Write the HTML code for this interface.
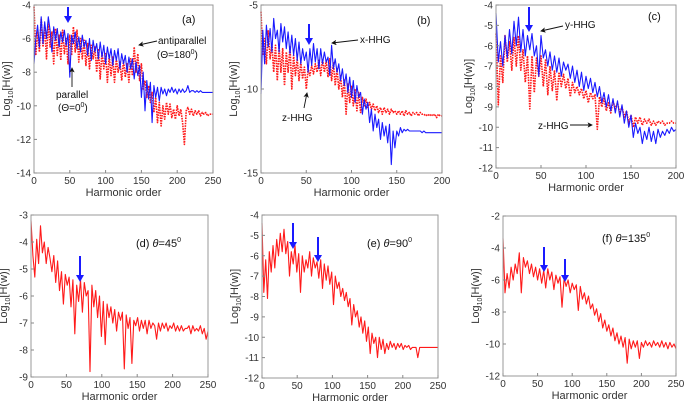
<!DOCTYPE html>
<html><head><meta charset="utf-8">
<style>
html,body{margin:0;padding:0;background:#fff;}
svg{display:block;font-family:"Liberation Sans",sans-serif;}
</style></head>
<body>
<svg id="fig" width="685" height="402" viewBox="0 0 685 402">
<defs>
<marker id="ah" markerWidth="6" markerHeight="6" refX="5" refY="3" orient="auto"><path d="M0,0 L6,3 L0,6 L1.5,3 Z" fill="#111"/></marker>
</defs>
</svg>
<script>
// ---- data (x evenly spaced over range) ----
const aBlue=[-7.5,-6,-5.2,-6.5,-4.7,-6.3,-5,-6,-4.7,-5.5,-6.8,-5.3,-6.1,-5.4,-6.5,-5.6,-6.2,-5.5,-6.4,-5.7,-8.3,-5.8,-6.3,-5.6,-6.6,-5.9,-6.8,-5.8,-6.5,-6.1,-7,-6,-7.3,-6.1,-6.8,-6.3,-7.2,-6.2,-7.1,-6.4,-7.5,-6.5,-7.2,-6.6,-7.6,-6.7,-7.3,-6.6,-7.8,-6.9,-7.5,-7,-8,-7.1,-7.8,-7.2,-8.4,-7.4,-8.2,-7.6,-9.5,-8,-10.3,-8.5,-9.6,-8.6,-11,-8.8,-9.5,-8.9,-9.7,-8.9,-9.3,-9,-9.4,-9,-9.2,-8.9,-9.2,-9,-9.3,-9,-9.2,-9,-9.2,-9.1,-8.8,-9.2,-9.1,-9.1,-9.2,-9.1,-9.2,-9.1,-9.2,-9.2,-9.2,-9.2,-9.2,-9.2,-9.2];
const aRed=[-4.1,-7,-5.5,-6.8,-4.8,-6.5,-5.2,-7.2,-5,-6.5,-5.6,-7.5,-5.4,-7,-5.8,-7.3,-5.5,-6.9,-6,-7.5,-5.8,-7,-5.3,-6.8,-5.5,-7.4,-6,-7.2,-6.1,-7.6,-6.3,-7.8,-6.4,-7.2,-6.5,-8,-6.6,-8.4,-6.8,-7.8,-6.9,-8.6,-7,-8.2,-7.1,-8.6,-7.2,-8,-7.4,-8.5,-7.3,-8.3,-7.5,-8.6,-7.2,-8.2,-6.5,-8,-6.9,-8.5,-7.5,-9,-8.5,-9.5,-8.8,-9.8,-9.2,-10.4,-9.5,-11,-9.8,-11.2,-10,-10.8,-9.8,-10.5,-9.9,-10.7,-10.2,-10.8,-10,-10.6,-10.2,-11,-12.3,-10.3,-10.1,-10.5,-10.2,-10.6,-10.3,-10.5,-10.3,-10.6,-10.4,-10.5,-10.4,-10.6,-10.5,-10.5,-10.5];
const bBlue=[-10.3,-6.5,-8.5,-6.2,-7.5,-6.4,-7.8,-5.8,-7,-6.5,-7.8,-6.1,-7.2,-6.3,-7.6,-6.6,-7.9,-6.8,-8,-7,-8.3,-7.2,-8.5,-7.6,-8.3,-7.8,-9,-7.6,-8.6,-7.3,-8.4,-7.6,-8.8,-7.6,-8.5,-7.8,-8.4,-8.1,-9.2,-7.4,-8.8,-8.2,-9,-8.5,-9.5,-8.8,-9.8,-9.1,-10.2,-9.3,-10.5,-9.5,-10.8,-9.8,-10.5,-10.2,-11.5,-10.6,-11.2,-10.8,-12,-11.2,-12.5,-11.5,-12.3,-11.8,-13,-12,-12.8,-12.2,-13.2,-12.1,-14.5,-12.5,-13.5,-12.5,-12.8,-12.3,-12.6,-12.4,-12.5,-12.4,-12.5,-12.5,-12.5,-12.5,-12.5,-12.5,-12.5,-12.6,-12.5,-12.6,-12.6,-12.6,-12.6,-12.6,-12.6,-12.6,-12.6,-12.6,-12.6];
const bRed=[-5.4,-8,-7,-8.5,-6.5,-8.2,-7.3,-9,-7.4,-9.5,-7.5,-9,-7.6,-9.8,-7.8,-9,-7.5,-10,-8,-9.2,-8.2,-9.5,-8.4,-9.4,-8.7,-10,-8.8,-9.2,-8.6,-9.1,-8.5,-9,-8.3,-9.2,-8.2,-9,-8.3,-9.3,-8.2,-9.5,-8.4,-9.8,-8.8,-10,-9.2,-10.5,-9.4,-11.5,-9.7,-10.8,-9.8,-11,-10,-11.3,-10.2,-11.4,-10.5,-11,-10.6,-11.1,-10.8,-11.2,-10.9,-11.3,-11,-11.4,-11.1,-11.5,-11.1,-11.4,-11.2,-11.5,-11.2,-11.4,-11.3,-11.5,-11.3,-11.5,-11.3,-11.6,-11.3,-11.5,-11.4,-11.6,-11.4,-11.5,-11.4,-11.6,-11.4,-11.5,-11.5,-11.6,-11.5,-11.6,-11.5,-11.6,-11.5,-11.7,-11.5,-11.6,-11.6];
const cBlue=[-4.4,-6.8,-5.8,-7,-5.5,-6.6,-5.2,-6.4,-4.8,-6,-4.6,-6.3,-5.2,-6.5,-5.5,-6.2,-5.4,-6.5,-6,-7.5,-5.5,-6.6,-6.2,-7,-6.3,-7.2,-6.5,-7.3,-6.6,-7.5,-6.8,-7.2,-6.9,-7.6,-7,-7.8,-7.2,-8,-7.3,-8.2,-7.5,-8.1,-7.6,-8.3,-7.8,-8.5,-8,-8.8,-8.3,-9,-8.4,-9.2,-8.6,-9.3,-8.7,-9.5,-8.9,-9.8,-9.2,-10,-9.4,-10.5,-9.8,-10.3,-10,-10.8,-10.2,-10.6,-10,-10.7,-10.2,-10.8,-10.1,-10.5,-10.2,-10.4,-10.1,-10.3,-10,-10.2,-10.1];
const cRed=[-5.4,-8.9,-6.5,-7.8,-5.5,-6.8,-5.8,-7.2,-5.6,-7,-5.5,-7.2,-6.2,-7.8,-6.5,-9.1,-6.5,-8.3,-6.6,-7.5,-6.5,-8,-6.7,-8.4,-7,-8.2,-7.2,-8.7,-7.3,-8,-7.4,-8.1,-7.6,-8.5,-7.8,-8.3,-8,-8.4,-8.1,-8.6,-8.2,-8.8,-8.3,-8.6,-8.4,-10.1,-8.5,-9,-8.6,-9.2,-8.8,-9.3,-8.7,-9.1,-8.8,-9.3,-9,-9.5,-9.2,-9.8,-9.4,-10,-9.5,-9.8,-9.5,-9.9,-9.6,-9.8,-9.6,-9.9,-9.7,-9.9,-9.7,-9.8,-9.7,-9.9,-9.8,-9.8,-9.7,-9.8,-9.8];
const dRed=[-3.2,-4.5,-5.3,-3.9,-4.8,-3.4,-4.4,-4,-4.8,-4.2,-4.6,-5.1,-4.5,-5.5,-4.7,-5.8,-5.1,-6.3,-5.2,-5.6,-5.3,-6.4,-5.4,-7.4,-5.6,-6.2,-5.4,-6.6,-5.5,-6,-5.8,-8.8,-5.6,-6.4,-5.8,-6.8,-6,-7.5,-6.2,-7.8,-6.3,-6.8,-6.4,-7,-6.5,-7.3,-6.6,-6.9,-6.6,-8.7,-6.7,-7.2,-6.8,-8.5,-6.9,-7.1,-6.8,-7.3,-6.9,-7.2,-6.9,-7.4,-6.9,-7.2,-7,-7.1,-7.6,-7,-7.3,-7,-7.2,-7,-7.3,-7.1,-7.2,-7,-7.3,-7.1,-7.3,-7.1,-7.3,-7.2,-7.2,-7.1,-7.4,-7.1,-7.3,-7.2,-7.3,-7.1,-7.4,-7.2,-7.6,-7.3];
const eRed=[-4.4,-7.8,-6.2,-8.1,-5.8,-6.8,-5.5,-6.6,-5.2,-6,-4.9,-5.8,-4.7,-5.9,-5.3,-7,-5.8,-6.4,-5.5,-6.8,-5.9,-7.8,-6,-6.8,-6.2,-6.6,-5.8,-7,-6.1,-6.6,-6.3,-7.1,-6.2,-7.6,-6.4,-7.2,-6.5,-7.4,-6.8,-8.4,-7,-7.6,-7.3,-8,-7.6,-8.2,-7.8,-8.5,-8.1,-9.4,-8.4,-9,-8.7,-9.5,-9,-9.8,-9.2,-10.2,-9.5,-10.8,-9.8,-10.3,-10,-11,-10,-10.6,-10.1,-10.8,-10.3,-10.6,-10.2,-10.5,-10.3,-10.6,-10.3,-10.5,-10.3,-10.6,-10.4,-10.5,-10.4,-10.6,-10.5,-10.5,-10.5,-11,-10.5,-10.5,-10.5,-10.5,-10.5,-10.5,-10.5,-10.5,-10.5,-10.5,-10.5];
const fRed=[-3.4,-6.8,-5.6,-6.5,-5.2,-6,-5,-5.6,-4.3,-6.8,-4.6,-5.2,-4.8,-5.6,-5,-5.8,-5.2,-6,-5.3,-6.2,-5.4,-6.5,-5.3,-6,-5.5,-6.6,-5.7,-6.2,-5.8,-7.7,-5.9,-6.4,-6,-6.8,-6.2,-6.6,-6.3,-7.9,-6.4,-7.2,-6.8,-7.5,-7,-7.8,-7.5,-8.2,-7.8,-8.6,-8.1,-9,-8.5,-9.2,-8.8,-9.5,-9,-9.8,-9.3,-10,-9.5,-10.2,-9.6,-11.2,-9.7,-10.3,-9.8,-10.2,-9.8,-10.9,-9.9,-10.2,-9.8,-10.1,-9.9,-10.2,-9.8,-10.1,-9.9,-10.2,-9.8,-10.2,-9.9,-10.3,-9.9,-10.2,-10,-10.3];
const xTicks250=[0,50,100,150,200,250];
const xTicks200=[0,50,100,150,200];
const yTicksA=[-4,-6,-8,-10,-12,-14];
const yTicksB=[-5,-10,-15];
const yTicksC=[-4,-5,-6,-7,-8,-9,-10,-11,-12];
const yTicksD=[-3,-4,-5,-6,-7,-8,-9];
const yTicksE=[-4,-5,-6,-7,-8,-9,-10,-11,-12];
const yTicksF=[-2,-4,-6,-8,-10,-12];

const svg=document.getElementById('fig');
const NS='http://www.w3.org/2000/svg';
function mk(tag,attrs,parent){const e=document.createElementNS(NS,tag);for(const k in attrs)e.setAttribute(k,attrs[k]);(parent||svg).appendChild(e);return e;}
function txt(s,x,y,attrs,parent){const t=mk('text',Object.assign({x:x,y:y,'font-size':10,fill:'#333'},attrs||{}),parent);t.textContent=s;return t;}

function panel(id,box,xmax,ymin,ymax,xt,yt,series){
  const g=mk('g',{});
  
  
  const X=v=>box.l+(v/xmax)*(box.r-box.l);
  const Y=v=>box.t+(ymax-v)/(ymax-ymin)*(box.b-box.t);
  series.forEach(s=>{
    const pts=s.data.map((v,i)=>X(xmax*i/(s.data.length-1)).toFixed(1)+','+Y(Math.max(ymin,v)).toFixed(1)).join(' ');
    const p=mk('polyline',{points:pts,fill:'none',stroke:s.color,'stroke-width':s.dash?1.6:1.1,'stroke-dasharray':s.dash?'1.6 1':'none','stroke-linejoin':'round'},g);
    
    
  });
  const fr=mk('rect',{x:box.l,y:box.t,width:box.r-box.l,height:box.b-box.t,fill:'none',stroke:'#999','stroke-width':1},g);
  
  
  xt.forEach(v=>{
    mk('line',{x1:X(v),x2:X(v),y1:box.b,y2:box.b-3,stroke:'#888'},g);
    const t=txt(String(v),X(v),box.b+11,{'text-anchor':'middle'},g);
    
    
  });
  yt.forEach(v=>{
    mk('line',{x1:box.l,x2:box.l+3,y1:Y(v),y2:Y(v),stroke:'#888'},g);
    const t=txt(String(v),box.l-3,Y(v)+3.5,{'text-anchor':'end'},g);
    
    
  });
  const xl=txt('Harmonic order',(box.l+box.r)/2,box.b+23,{'text-anchor':'middle','font-size':11},g);
  
  
  const yx=box.l-24, yy=(box.t+box.b)/2;
  const yl=mk('text',{x:yx,y:yy,'font-size':11,fill:'#333','text-anchor':'middle',transform:'rotate(-90 '+yx+' '+yy+')'},g);
  
  
  yl.innerHTML='Log<tspan font-size="7" dy="3">10</tspan><tspan dy="-3">[H(w)]</tspan>';
  return {X,Y,g};
}
function blueArrow(x,y1,y2){
  const g=mk('g',{});
  
  
  mk('line',{x1:x,x2:x,y1:y1,y2:y2-5,stroke:'#1a1aff','stroke-width':2},g);
  mk('path',{d:`M${x-4},${y2-7} L${x+4},${y2-7} L${x},${y2} Z`,fill:'#1a1aff'},g);
}
function blackArrow(x1,y1,x2,y2){
  const l=mk('line',{x1,y1,x2,y2,stroke:'#111','stroke-width':0.9,'marker-end':'url(#ah)'});
  
  
}
function label(s,x,y,name,size){
  const t=txt('',x,y,{'font-size':size||10,fill:'#111'});
  t.innerHTML=s;
  
  
}

panel('a',{l:34,r:213,t:5,b:173},250,-14,-4,xTicks250,yTicksA,[
 {data:aRed,color:'#ff1a1a',dash:true,name:'antiparallel-series'},
 {data:aBlue,color:'#1a1aff',name:'parallel-series'}]);
panel('b',{l:261,r:442,t:5,b:173},200,-15,-5,xTicks200,yTicksB,[
 {data:bRed,color:'#ff1a1a',dash:true,name:'z-hhg-series'},
 {data:bBlue,color:'#1a1aff',name:'x-hhg-series'}]);
panel('c',{l:496,r:676,t:5,b:168},200,-12,-4,xTicks200,yTicksC,[
 {data:cRed,color:'#ff1a1a',dash:true,name:'z-hhg-series'},
 {data:cBlue,color:'#1a1aff',name:'y-hhg-series'}]);
panel('d',{l:31,r:208,t:215,b:377},250,-9,-3,xTicks250,yTicksD,[
 {data:dRed,color:'#ff1a1a',name:'theta-45-series'}]);
panel('e',{l:262,r:438,t:215,b:378},250,-12,-4,xTicks250,yTicksE,[
 {data:eRed,color:'#ff1a1a',name:'theta-90-series'}]);
panel('f',{l:503,r:676,t:216,b:376},250,-12,-2,xTicks250,yTicksF,[
 {data:fRed,color:'#ff1a1a',name:'theta-135-series'}]);

blueArrow(68,7,23); blueArrow(309,24,45); blueArrow(529,7,32);
blueArrow(80,256,282); blueArrow(293,223,249); blueArrow(318,237,262);
blueArrow(544,247,272); blueArrow(565,259,282);

label('(a)',182,23,'panel-label-a',11);
label('(b)',417,24,'panel-label-b',11);
label('(c)',648,20,'panel-label-c',11);
label('(d) <tspan font-style="italic">θ</tspan>=45<tspan font-size="7" dy="-5">0</tspan>',136,247,'panel-label-d',11);
label('(e) <tspan font-style="italic">θ</tspan>=90<tspan font-size="7" dy="-5">0</tspan>',367,247,'panel-label-e',11);
label('(f)  <tspan font-style="italic">θ</tspan>=135<tspan font-size="7" dy="-5">0</tspan>',602,242,'panel-label-f',11);

label('antiparallel',158,44,'annotation-antiparallel');
label('(Θ=180<tspan font-size="7" dy="-4">0</tspan><tspan dy="4">)</tspan>',157,58,'annotation-theta-180');
blackArrow(157,41,139,45);
label('parallel',56,98,'annotation-parallel');
label('(Θ=0<tspan font-size="7" dy="-4">0</tspan><tspan dy="4">)</tspan>',58,111,'annotation-theta-0');
blackArrow(72,87,72,68);
label('x-HHG',360,43,'annotation-x-hhg');
blackArrow(358,40,332,43);
label('z-HHG',282,121,'annotation-z-hhg-b');
blackArrow(304,108,307,93);
label('y-HHG',565,28,'annotation-y-hhg');
blackArrow(563,26,541,31);
label('z-HHG',538,129,'annotation-z-hhg-c');
blackArrow(570,125,592,125);
</script>
</body></html>
